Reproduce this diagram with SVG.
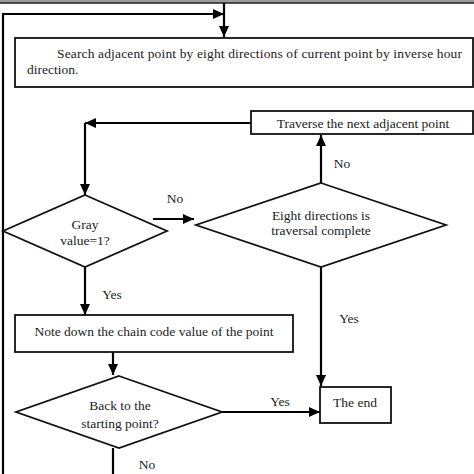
<svg xmlns="http://www.w3.org/2000/svg" width="474" height="474" viewBox="0 0 474 474">
<defs>
<marker id="ah" markerUnits="userSpaceOnUse" markerWidth="12" markerHeight="10" refX="11" refY="5" orient="auto">
<path d="M0,0 L11,5 L0,10 Z" fill="#000"/>
</marker>
</defs>
<style>
.box{fill:#fff;stroke:#111;stroke-width:1.8}
.ln{fill:none;stroke:#000;stroke-width:2.2}
text{font-family:"Liberation Serif","Times New Roman",serif;font-size:13.5px;fill:#222}
.c{text-anchor:middle}
</style>
<rect width="474" height="474" fill="#fff"/>
<g id="top">
<rect x="-2" y="-6" width="478" height="9" fill="#9a9a9a" stroke="#222" stroke-width="1.5"/>
</g>
<g id="connectors">
<path class="ln" d="M224,3 V37" marker-end="url(#ah)"/>
<path class="ln" d="M3,474 V14 H224" marker-end="url(#ah)"/>
<path class="ln" d="M251,123 H85" marker-end="url(#ah)"/>
<path class="ln" d="M85,123 V195" marker-end="url(#ah)"/>
<path class="ln" d="M153,219 H194" marker-end="url(#ah)"/>
<path class="ln" d="M321,183 V135" marker-end="url(#ah)"/>
<path class="ln" d="M321,267 V386" marker-end="url(#ah)"/>
<path class="ln" d="M85,267 V315" marker-end="url(#ah)"/>
<path class="ln" d="M113,352 V375" marker-end="url(#ah)"/>
<path class="ln" d="M222,412 H320" marker-end="url(#ah)"/>
<path class="ln" d="M113,448 V476"/>
<text x="175" y="203" class="c">No</text>
<text x="342" y="168" class="c">No</text>
<text x="349" y="323" class="c">Yes</text>
<text x="112" y="299" class="c">Yes</text>
<text x="280" y="406" class="c">Yes</text>
<text x="147" y="469" class="c">No</text>
</g>
<g id="search">
<rect class="box" x="15" y="38" width="458" height="49"/>
<text x="57" y="58" textLength="405" lengthAdjust="spacing">Search adjacent point by eight directions of current point by inverse hour</text>
<text x="27" y="74">direction.</text>
</g>
<g id="traverse">
<rect class="box" x="251" y="111" width="222" height="23"/>
<text x="363" y="128" class="c">Traverse the next adjacent point</text>
</g>
<g id="gray">
<polygon class="box" points="85,195 167,231 85,267 3,231"/>
<text x="85" y="229" class="c">Gray</text>
<text x="85" y="245" class="c">value=1?</text>
</g>
<g id="eight">
<polygon class="box" points="321,183 446,225 321,267 196,225"/>
<text x="321" y="220" class="c">Eight directions is</text>
<text x="321" y="235" class="c">traversal complete</text>
</g>
<g id="note">
<rect class="box" x="15" y="315" width="278" height="37"/>
<text x="154" y="336" class="c">Note down the chain code value of the point</text>
</g>
<g id="back">
<polygon class="box" points="119,376 222,412 119,448 16,412"/>
<text x="120" y="410" class="c">Back to the</text>
<text x="120" y="428" class="c">starting point?</text>
</g>
<g id="end">
<rect class="box" x="320" y="387" width="71" height="36"/>
<text x="355" y="407" class="c">The end</text>
</g>
</svg>
